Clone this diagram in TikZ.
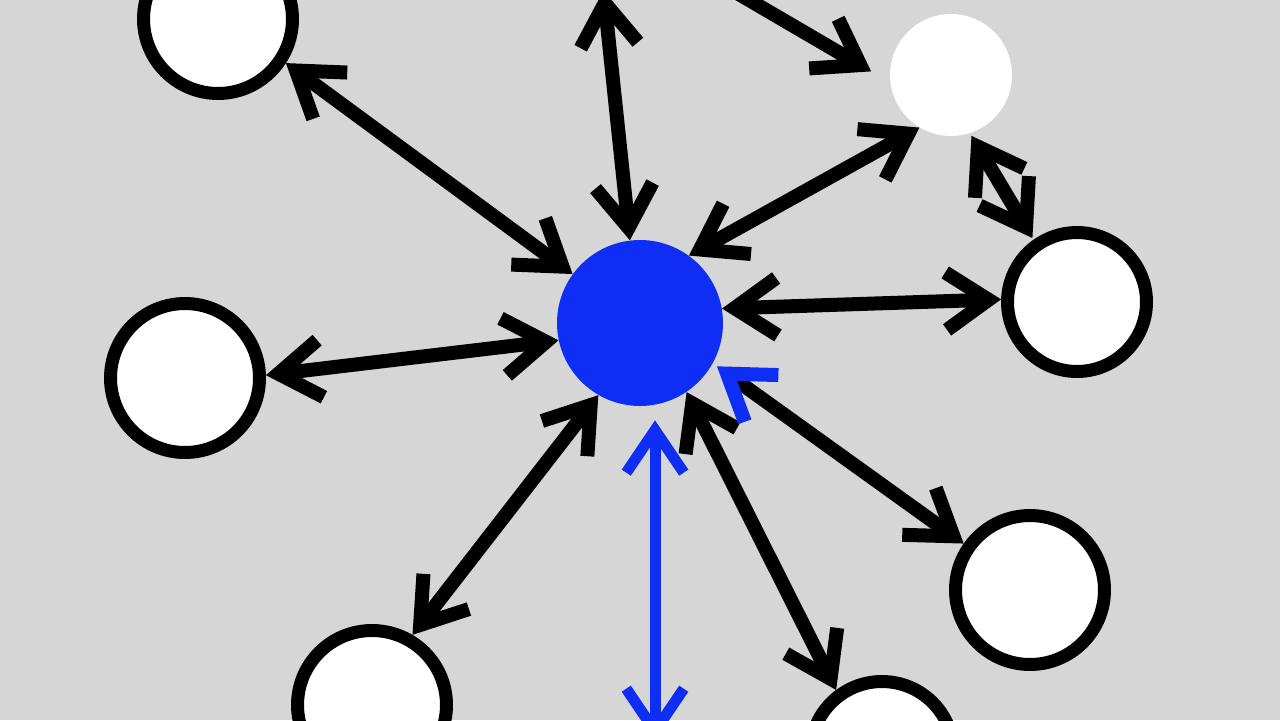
\documentclass[tikz,border=0pt]{standalone}
\usepackage{tikz}
\usetikzlibrary{arrows.meta,positioning}

\definecolor{fond}{RGB}{214,214,214}
\definecolor{bleu}{RGB}{14,46,245}

\tikzset{
	pointe/.tip={Straight Barb[sharp,length=0.85cm,width=1.15cm]},
	noeud/.style={circle,draw=black,fill=white,line width=0.26cm,minimum size=2.98cm,inner sep=0pt},
	lien/.style={line width=0.28cm,<->},
}

\begin{document}
\begin{tikzpicture}[x=0.02cm,y=-0.02cm,>=pointe]
	% fond
	\fill [fond] (0,0) rectangle (1280,720);
	\useasboundingbox (0,0) rectangle (1280,720);
	\clip (0,0) rectangle (1280,720);

	% centre
	\node [circle,fill=bleu,minimum size=3.32cm,inner sep=0pt] (hub) at (640,323) {};

	% noeuds autour
	\node [noeud] (hg) at (218,19) {};
	\node [noeud] (gauche) at (185,378) {};
	\node [noeud,minimum size=2.78cm] (droite) at (1077,302) {};
	\node [circle,fill=white,minimum size=2.44cm,inner sep=0pt] (hd) at (951,75) {};
	\node [noeud] (bd) at (1030,590) {};
	\node [noeud] (bg) at (372,705) {};
	\node [noeud,minimum size=2.86cm] (bas) at (882,753) {};
	\node [noeud] (haut) at (595,-90) {};
	\node [noeud] (sud) at (655,822) {};

	% liens
	\draw [lien] (hub.144) -- (hg.-33);
	\draw [lien] (hub.97) -- (haut);
	\draw [lien,->,shorten >=0.44cm] (haut) -- (hd.187);
	\draw [lien] (hub.54) -- (hd.-121);
	\draw [lien,shorten <=0.06cm,shorten >=0.04cm] (hd.-72) -- (droite.125);
	\draw [lien] (hub.10) -- (droite.178);
	\draw [lien] (hub.192) -- (gauche.2);
	\draw [lien] (hub.-120) -- (bg.60);
	\draw [lien] (hub.-56) -- (bas.126);
	\draw [lien,{pointe[color=bleu]}-{pointe},shorten <=0.1cm] (hub.-29) -- (bd.145);
	\draw [lien,bleu,line width=0.22cm,shorten <=0.28cm] (hub.south -| sud.north) -- (sud.north);
\end{tikzpicture}
\end{document}
